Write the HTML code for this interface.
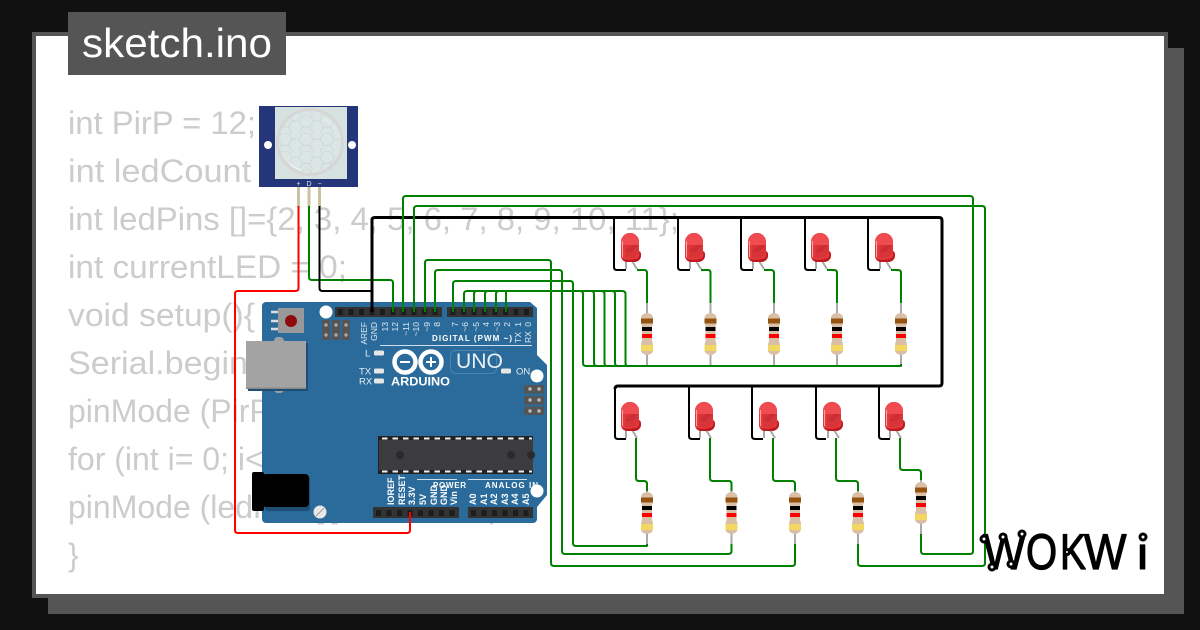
<!DOCTYPE html>
<html>
<head>
<meta charset="utf-8">
<style>
html,body{margin:0;padding:0;background:#111;width:1200px;height:630px;overflow:hidden}
svg{display:block}
text{font-family:"Liberation Sans",sans-serif}
.w{fill:none;stroke-width:2;stroke-linejoin:round;stroke-linecap:butt}
.g{stroke:#008000}.k{stroke:#000}.r{stroke:#f00}
.c{font-size:32px;fill:#ccc}
.p{font-size:8.5px;fill:#fff;opacity:.85;text-anchor:end}
.b{font-size:9px;fill:#fff;font-weight:bold;text-anchor:start}
.lg{fill:#000;stroke:#000;stroke-width:1.2;stroke-linejoin:round;font-size:50px}
</style>
</head>
<body>
<svg width="1200" height="630" viewBox="0 0 1200 630" xmlns="http://www.w3.org/2000/svg">
<defs>
<symbol id="led" overflow="visible" viewBox="0 0 30 40" width="30" height="40">
  <path d="M11 29V37M17 29L22 37" stroke="#aaa" stroke-width="2" fill="none"/>
  <path d="M6 10a9 9 0 0 1 18 0v9a4 4 0 0 1 2 4a6.500 6.500 0 0 1-6.500 7h-8.500a6 6 0 0 1-5-6z" fill="#bf1a20"/>
  <path d="M6 10a9 9 0 0 1 18 0v10q1 3-1 6q-8 3-16 1q-1-2-1-7z" fill="#e23a3e"/>
  <path d="M6 10a9 9 0 0 1 18 0v3h-18z" fill="#f04b50"/>
  <path d="M10 13h14v8l-5 5h-9z" fill="#d93438"/>
  <path d="M11 19l6-6h6l-6 7h-6z" fill="#c62b30" opacity=".75"/>
  <path d="M7.500 9v16" stroke="#f7a8a8" stroke-width="1" fill="none"/>
</symbol>
<symbol id="res" overflow="visible" viewBox="0 0 14 62" width="14" height="62">
  <path d="M7 0V62" stroke="#aaa" stroke-width="2"/>
  <path d="M1 15a6 5 0 0 1 12 0v5l-1 3v15l1 3v6a6 5 0 0 1-12 0v-6l1-3v-15l-1-3z" fill="#d9bfa6"/>
  <rect x="1" y="15.500" width="12" height="5" fill="#96530f"/>
  <rect x="2" y="24" width="10" height="4" fill="#000"/>
  <rect x="2" y="31" width="10" height="4" fill="#f00"/>
  <rect x="1" y="42" width="12" height="6" fill="#f2d760"/>
</symbol>
<pattern id="hex" width="21" height="18.200" patternUnits="userSpaceOnUse" x="299" y="133">
  <path d="M3.500 0h7l3.500 6.100-3.500 6.100h-7l-3.500-6.100zM14 6.100h7M10.500 12.200l3.500 6M3.500 12.200l-3.500 6" fill="none" stroke="#c9d7d5" stroke-width=".9"/>
</pattern>
</defs>

<!-- frame -->
<rect x="0" y="0" width="1200" height="630" fill="#111"/>
<rect x="48" y="48" width="1136" height="566" fill="#555"/>
<rect x="32" y="32" width="1136" height="566" fill="#555"/>
<rect x="36" y="36" width="1128" height="558" fill="#fff"/>
<rect x="68" y="12" width="218" height="63" fill="#555"/>
<text x="82" y="57" font-size="41" fill="#fff" textLength="190" lengthAdjust="spacingAndGlyphs">sketch.ino</text>

<!-- code -->
<text class="c" x="68" y="134" textLength="188" lengthAdjust="spacingAndGlyphs">int PirP = 12;</text>
<text class="c" x="68" y="182" textLength="270" lengthAdjust="spacingAndGlyphs">int ledCount = 10;</text>
<text class="c" x="68" y="230" textLength="611" lengthAdjust="spacingAndGlyphs">int ledPins []={2, 3, 4, 5, 6, 7, 8, 9, 10, 11};</text>
<text class="c" x="68" y="278" textLength="279" lengthAdjust="spacingAndGlyphs">int currentLED = 0;</text>
<text class="c" x="68" y="326" textLength="187" lengthAdjust="spacingAndGlyphs">void setup(){</text>
<text class="c" x="68" y="374" textLength="288" lengthAdjust="spacingAndGlyphs">Serial.begin(9600);</text>
<text class="c" x="68" y="422">pinMode (PirP, INPUT);</text>
<text class="c" x="68" y="470">for (int i= 0; i&lt;ledCount; i++)</text>
<text class="c" x="68" y="518">pinMode (ledPins[i], OUTPUT);</text>
<text class="c" x="68" y="566">}</text>

<!-- PIR -->
<rect x="297" y="186" width="3" height="21" fill="#c9c2a0"/>
<rect x="307.500" y="186" width="3" height="21" fill="#c9c2a0"/>
<rect x="318" y="186" width="3" height="21" fill="#c9c2a0"/>
<rect x="259" y="106" width="99" height="81" fill="#24357a"/>
<rect x="275" y="107" width="72" height="72" fill="#d5e2e0"/>
<circle cx="310" cy="142" r="32" fill="#dbe6e4"/>
<circle cx="310" cy="142" r="32" fill="url(#hex)"/>
<circle cx="310" cy="142" r="32.500" fill="none" stroke="#d6d6d6" stroke-width="3"/>
<path d="M316 115a28 28 0 0 1 21 22a30 30 0 0 0-21-22z" fill="#fff"/>
<path d="M288 162a30 30 0 0 0 14 8a30 30 0 0 1-14-8z" fill="#fff" stroke="#fff" stroke-width=".6"/>
<circle cx="268" cy="145" r="4" fill="#fff"/>
<circle cx="352" cy="145" r="4" fill="#fff"/>
<text x="298.500" y="186" font-size="7" fill="#dfe3ee" text-anchor="middle">+</text>
<text x="309" y="186" font-size="7" fill="#dfe3ee" text-anchor="middle">D</text>
<text x="319.500" y="186" font-size="7" fill="#dfe3ee" text-anchor="middle">−</text>

<!-- Arduino -->
<path d="M262 306a4 4 0 0 1 4-4H530L537 308V355L547 365V495L537 507V519a4 4 0 0 1-4 4H266a4 4 0 0 1-4-4z" fill="#2b6b9b"/>
<circle cx="326" cy="312" r="6.500" fill="#fff"/>
<circle cx="537" cy="376" r="6.500" fill="#fff"/>
<circle cx="537" cy="491" r="6.500" fill="#fff"/>
<circle cx="320" cy="512" r="6.500" fill="#e8e8e8"/>
<path d="M316 516l8-8" stroke="#999" stroke-width="1"/>
<!-- button -->
<path d="M271 312h8M296 312h8M271 321h8M271 329h8M296 329h8" stroke="#ddd" stroke-width="2.500"/>
<rect x="278" y="308" width="26" height="25" fill="#999"/>
<circle cx="291" cy="321" r="6" fill="#8f0a0a"/>
<!-- ICSP 1 -->
<rect x="322" y="320" width="8" height="20" fill="#555"/>
<rect x="332" y="320" width="8" height="20" fill="#555"/>
<rect x="342" y="320" width="8" height="20" fill="#555"/>
<g fill="#aaa"><circle cx="326" cy="325" r="1.700"/><circle cx="326" cy="335" r="1.700"/><circle cx="336" cy="325" r="1.700"/><circle cx="336" cy="335" r="1.700"/><circle cx="346" cy="325" r="1.700"/><circle cx="346" cy="335" r="1.700"/></g>
<!-- ICSP 2 -->
<rect x="524" y="385" width="20" height="8.500" fill="#555"/>
<rect x="524" y="396" width="20" height="8.500" fill="#555"/>
<rect x="524" y="406.500" width="20" height="8.500" fill="#555"/>
<g fill="#bbb"><circle cx="530" cy="389" r="1.700"/><circle cx="539" cy="389" r="1.700"/><circle cx="530" cy="400" r="1.700"/><circle cx="539" cy="400" r="1.700"/><circle cx="530" cy="411" r="1.700"/><circle cx="539" cy="411" r="1.700"/></g>
<!-- USB -->
<rect x="274" y="337" width="10" height="56" rx="4" fill="#a0a0a0"/>
<rect x="248" y="343" width="60" height="48" fill="#1f4f75"/>
<rect x="246" y="341" width="60" height="48" fill="#a3a3a3"/>
<rect x="246" y="387.500" width="60" height="1.500" fill="#888"/>
<!-- jack -->
<rect x="265" y="476" width="45" height="35" rx="3" fill="#1f4f75"/>
<rect x="252" y="472" width="12" height="39" rx="2" fill="#000"/>
<rect x="262" y="474" width="47" height="33" rx="4" fill="#000"/>
<!-- headers -->
<rect x="335" y="307" width="107" height="10" fill="#333"/>
<rect x="447" y="307" width="86" height="10" fill="#333"/>
<rect x="373" y="507" width="86" height="11" fill="#333"/>
<rect x="468" y="507" width="65" height="11" fill="#333"/>
<g fill="#1d1d1d">
<rect x="338" y="309" width="5" height="6"/><rect x="348.500" y="309" width="5" height="6"/><rect x="359" y="309" width="5" height="6"/><rect x="369.500" y="309" width="5" height="6"/><rect x="380" y="309" width="5" height="6"/><rect x="390.500" y="309" width="5" height="6"/><rect x="401" y="309" width="5" height="6"/><rect x="411.500" y="309" width="5" height="6"/><rect x="422" y="309" width="5" height="6"/><rect x="432.500" y="309" width="5" height="6"/>
<rect x="450.500" y="309" width="5" height="6"/><rect x="461" y="309" width="5" height="6"/><rect x="471.500" y="309" width="5" height="6"/><rect x="482" y="309" width="5" height="6"/><rect x="492.500" y="309" width="5" height="6"/><rect x="503" y="309" width="5" height="6"/><rect x="513.500" y="309" width="5" height="6"/><rect x="524" y="309" width="5" height="6"/>
<rect x="376" y="510" width="5" height="6"/><rect x="386.500" y="510" width="5" height="6"/><rect x="397" y="510" width="5" height="6"/><rect x="407.500" y="510" width="5" height="6"/><rect x="418" y="510" width="5" height="6"/><rect x="428.500" y="510" width="5" height="6"/><rect x="439" y="510" width="5" height="6"/><rect x="449.500" y="510" width="5" height="6"/>
<rect x="471" y="510" width="5" height="6"/><rect x="481.500" y="510" width="5" height="6"/><rect x="492" y="510" width="5" height="6"/><rect x="502.500" y="510" width="5" height="6"/><rect x="513" y="510" width="5" height="6"/><rect x="523.500" y="510" width="5" height="6"/>
</g>
<!-- chip -->
<rect x="378" y="436" width="155" height="38" fill="#222"/>
<rect x="379" y="440" width="154" height="30" fill="#3c3c3e"/>
<path d="M382 438.500H532M382 471.500H532" stroke="#eee" stroke-width="2" stroke-dasharray="5.500 5"/>
<circle cx="400" cy="455" r="4" fill="#2a2a2a"/>
<circle cx="511" cy="455" r="4" fill="#2a2a2a"/>
<circle cx="531" cy="455" r="4" fill="#2a2a2a"/>
<!-- logo -->
<g fill="none" stroke="#fff" stroke-width="4.500">
<circle cx="405" cy="362" r="10.500"/>
<circle cx="431" cy="362" r="10.500"/>
</g>
<rect x="400" y="361" width="10" height="2" fill="#fff"/>
<path d="M426 362h10M431 357v10" stroke="#fff" stroke-width="2"/>
<text x="391" y="385.500" font-size="11.500" font-weight="bold" fill="#fff" textLength="59" lengthAdjust="spacingAndGlyphs">ARDUINO</text>
<rect x="450.500" y="350.500" width="46" height="23" rx="5" fill="none" stroke="#4a85b0" stroke-width="1"/>
<text x="456" y="368" font-size="21" fill="#e8f0f5" textLength="47" lengthAdjust="spacingAndGlyphs">UNO</text>
<!-- small leds -->
<g fill="#e6e6e6">
<rect x="374" y="350.500" width="10" height="5" rx="1.500"/>
<rect x="374" y="368.500" width="10" height="5" rx="1.500"/>
<rect x="374" y="378.500" width="10" height="5" rx="1.500"/>
<rect x="501" y="368.500" width="10" height="5" rx="1.500"/>
</g>
<g font-size="9.500" fill="#e4ecf2">
<text x="365" y="356.500">L</text>
<text x="359" y="374.500">TX</text>
<text x="359" y="384.500">RX</text>
<text x="516" y="374.500">ON</text>
</g>
<text x="432" y="341" font-size="8" font-weight="bold" fill="#fff" textLength="80" lengthAdjust="spacing">DIGITAL (PWM ~)</text>
<path d="M380 345.500H532M417 479.500H457M468 479.500H527" stroke="#cfe0ec" stroke-width="1"/>
<text x="433" y="488" font-size="8" font-weight="bold" fill="#fff" textLength="33" lengthAdjust="spacing">POWER</text>
<text x="485" y="488" font-size="8" font-weight="bold" fill="#fff" textLength="53" lengthAdjust="spacing">ANALOG IN</text>
<!-- pin labels -->
<text class="p" transform="translate(367,322) rotate(-90)">AREF</text>
<text class="p" transform="translate(377,322) rotate(-90)">GND</text>
<text class="p" transform="translate(388,322) rotate(-90)">13</text>
<text class="p" transform="translate(398,322) rotate(-90)">12</text>
<text class="p" transform="translate(409,322) rotate(-90)">~11</text>
<text class="p" transform="translate(419,322) rotate(-90)">~10</text>
<text class="p" transform="translate(430,322) rotate(-90)">~9</text>
<text class="p" transform="translate(440,322) rotate(-90)">8</text>
<text class="p" transform="translate(458,322) rotate(-90)">7</text>
<text class="p" transform="translate(468,322) rotate(-90)">~6</text>
<text class="p" transform="translate(479,322) rotate(-90)">~5</text>
<text class="p" transform="translate(489,322) rotate(-90)">4</text>
<text class="p" transform="translate(500,322) rotate(-90)">~3</text>
<text class="p" transform="translate(510,322) rotate(-90)">2</text>
<text class="p" transform="translate(521,322) rotate(-90)">1</text>
<text class="p" transform="translate(531,322) rotate(-90)">0</text>
<text class="p" transform="translate(521,343) rotate(-90)" style="text-anchor:start">TX</text>
<text class="p" transform="translate(531,343) rotate(-90)" style="text-anchor:start">RX</text>
<text class="b" transform="translate(394,505) rotate(-90)">IOREF</text>
<text class="b" transform="translate(405,505) rotate(-90)">RESET</text>
<text class="b" transform="translate(415,505) rotate(-90)">3.3V</text>
<text class="b" transform="translate(426,505) rotate(-90)">5V</text>
<text class="b" transform="translate(437,505) rotate(-90)">GND</text>
<text class="b" transform="translate(447,505) rotate(-90)">GND</text>
<text class="b" transform="translate(457,505) rotate(-90)">Vin</text>
<text class="b" transform="translate(476,505) rotate(-90)">A0</text>
<text class="b" transform="translate(487,505) rotate(-90)">A1</text>
<text class="b" transform="translate(497,505) rotate(-90)">A2</text>
<text class="b" transform="translate(508,505) rotate(-90)">A3</text>
<text class="b" transform="translate(518,505) rotate(-90)">A4</text>
<text class="b" transform="translate(529,505) rotate(-90)">A5</text>

<!-- LEDs -->
<use href="#led" x="615" y="232"/>
<use href="#led" x="679" y="232"/>
<use href="#led" x="742" y="232"/>
<use href="#led" x="805" y="232"/>
<use href="#led" x="869" y="232"/>
<use href="#led" x="615" y="401"/>
<use href="#led" x="689" y="401"/>
<use href="#led" x="753" y="401"/>
<use href="#led" x="817" y="401"/>
<use href="#led" x="879" y="401"/>
<!-- resistors -->
<use href="#res" x="640" y="303"/>
<use href="#res" x="703.500" y="303"/>
<use href="#res" x="767" y="303"/>
<use href="#res" x="830" y="303"/>
<use href="#res" x="894" y="303"/>
<use href="#res" x="640" y="482"/>
<use href="#res" x="724.500" y="482"/>
<use href="#res" x="788" y="482"/>
<use href="#res" x="851" y="482"/>
<use href="#res" x="914" y="472"/>

<!-- wires -->
<path class="w r" d="M298.500 206V288Q298.500 291 295.500 291H238Q235 291 235 294V530Q235 533 238 533H407Q410 533 410 530V512"/>
<path class="w g" d="M309 206V277Q309 280 312 280H390Q393 280 393 283V312"/>
<path class="w k" d="M319.500 206V288Q319.500 291 322.500 291H372"/>
<path class="w k" style="stroke-width:3" d="M372 312V220Q372 217.500 375 217.500H939Q942 217.500 942 220.500V383Q942 386 939 386H618Q615 386 615 389"/>
<path class="w k" d="M614 218V267Q614 270 617 270H626"/>
<path class="w k" d="M678 218V267Q678 270 681 270H690"/>
<path class="w k" d="M741 218V267Q741 270 744 270H753"/>
<path class="w k" d="M805 218V267Q805 270 808 270H816"/>
<path class="w k" d="M868 218V267Q868 270 871 270H880"/>
<path class="w k" d="M615 389V436Q615 439 618 439H626"/>
<path class="w k" d="M689 386V436Q689 439 692 439H700"/>
<path class="w k" d="M752 386V436Q752 439 755 439H763"/>
<path class="w k" d="M816 386V436Q816 439 819 439H826"/>
<path class="w k" d="M879 386V436Q879 439 882 439H890"/>
<!-- green: top row LEDs to resistors -->
<path class="w g" d="M637 270H644Q647 270 647 273V303"/>
<path class="w g" d="M701 270H708Q710.500 270 710.500 273V303"/>
<path class="w g" d="M764 270H771Q774 270 774 273V303"/>
<path class="w g" d="M827 270H834Q837 270 837 273V303"/>
<path class="w g" d="M891 270H898Q901 270 901 273V303"/>
<!-- green: bottom row -->
<path class="w g" d="M636 438V478Q636 481 639 481H644Q647 481 647 484V491"/>
<path class="w g" d="M710 438V478Q710 481 713 481H729Q731.500 481 731.500 484V491"/>
<path class="w g" d="M773 438V478Q773 481 776 481H792Q795 481 795 484V491"/>
<path class="w g" d="M836 438V478Q836 481 839 481H855Q858 481 858 484V491"/>
<path class="w g" d="M900 438V467Q900 470 903 470H918Q921 470 921 473V480"/>
<!-- green: pins to resistors -->
<path class="w g" d="M403 312V199Q403 196 406 196H970Q973 196 973 199V551Q973 554 970 554H924Q921 554 921 551V534"/>
<path class="w g" d="M414 312V209Q414 206 417 206H982Q985 206 985 209V563Q985 566 982 566H861Q858 566 858 563V544"/>
<path class="w g" d="M425 312V263Q425 260 428 260H548Q551 260 551 263V563Q551 566 554 566H792Q795 566 795 563V544"/>
<path class="w g" d="M435 312V273Q435 270 438 270H559Q562 270 562 273V551Q562 554 565 554H728Q731.500 554 731.500 551V544"/>
<path class="w g" d="M453 312V284Q453 281 456 281H570Q573 281 573 284V543Q573 546 576 546H647V544"/>
<path class="w g" d="M464 312V294Q464 291 467 291H580Q583 291 583 294V363Q583 366 586 366H647"/>
<path class="w g" d="M474 312V294Q474 291 477 291H591Q594 291 594 294V363Q594 366 597 366H710"/>
<path class="w g" d="M485 312V294Q485 291 488 291H601Q604.500 291 604.500 294V363Q604.500 366 607 366H774"/>
<path class="w g" d="M496 312V294Q496 291 499 291H612Q615 291 615 294V363Q615 366 618 366H837"/>
<path class="w g" d="M506 312V291H622Q625.500 291 625.500 294V363Q625.500 366 628 366H901V364"/>

<!-- wokwi -->
<g class="lg">
<text transform="translate(983,569) scale(.9,1)">W</text>
<text transform="translate(1026,569) scale(.8,1)">O</text>
<text transform="translate(1060,569) scale(.78,1)">K</text>
<text transform="translate(1084,569) scale(.9,1)">W</text>
<text transform="translate(1137,569) scale(1,.9)">i</text>
</g>
<g fill="#fff" stroke="#000" stroke-width="3">
<circle cx="984" cy="539" r="3"/>
<circle cx="1003" cy="537" r="3"/>
<circle cx="1022" cy="534" r="3"/>
<circle cx="992" cy="567" r="3"/>
<circle cx="1011" cy="564" r="3"/>
<circle cx="1067" cy="552" r="2.500"/>
<circle cx="1143" cy="537" r="3"/>
</g>
</svg>
</body>
</html>
